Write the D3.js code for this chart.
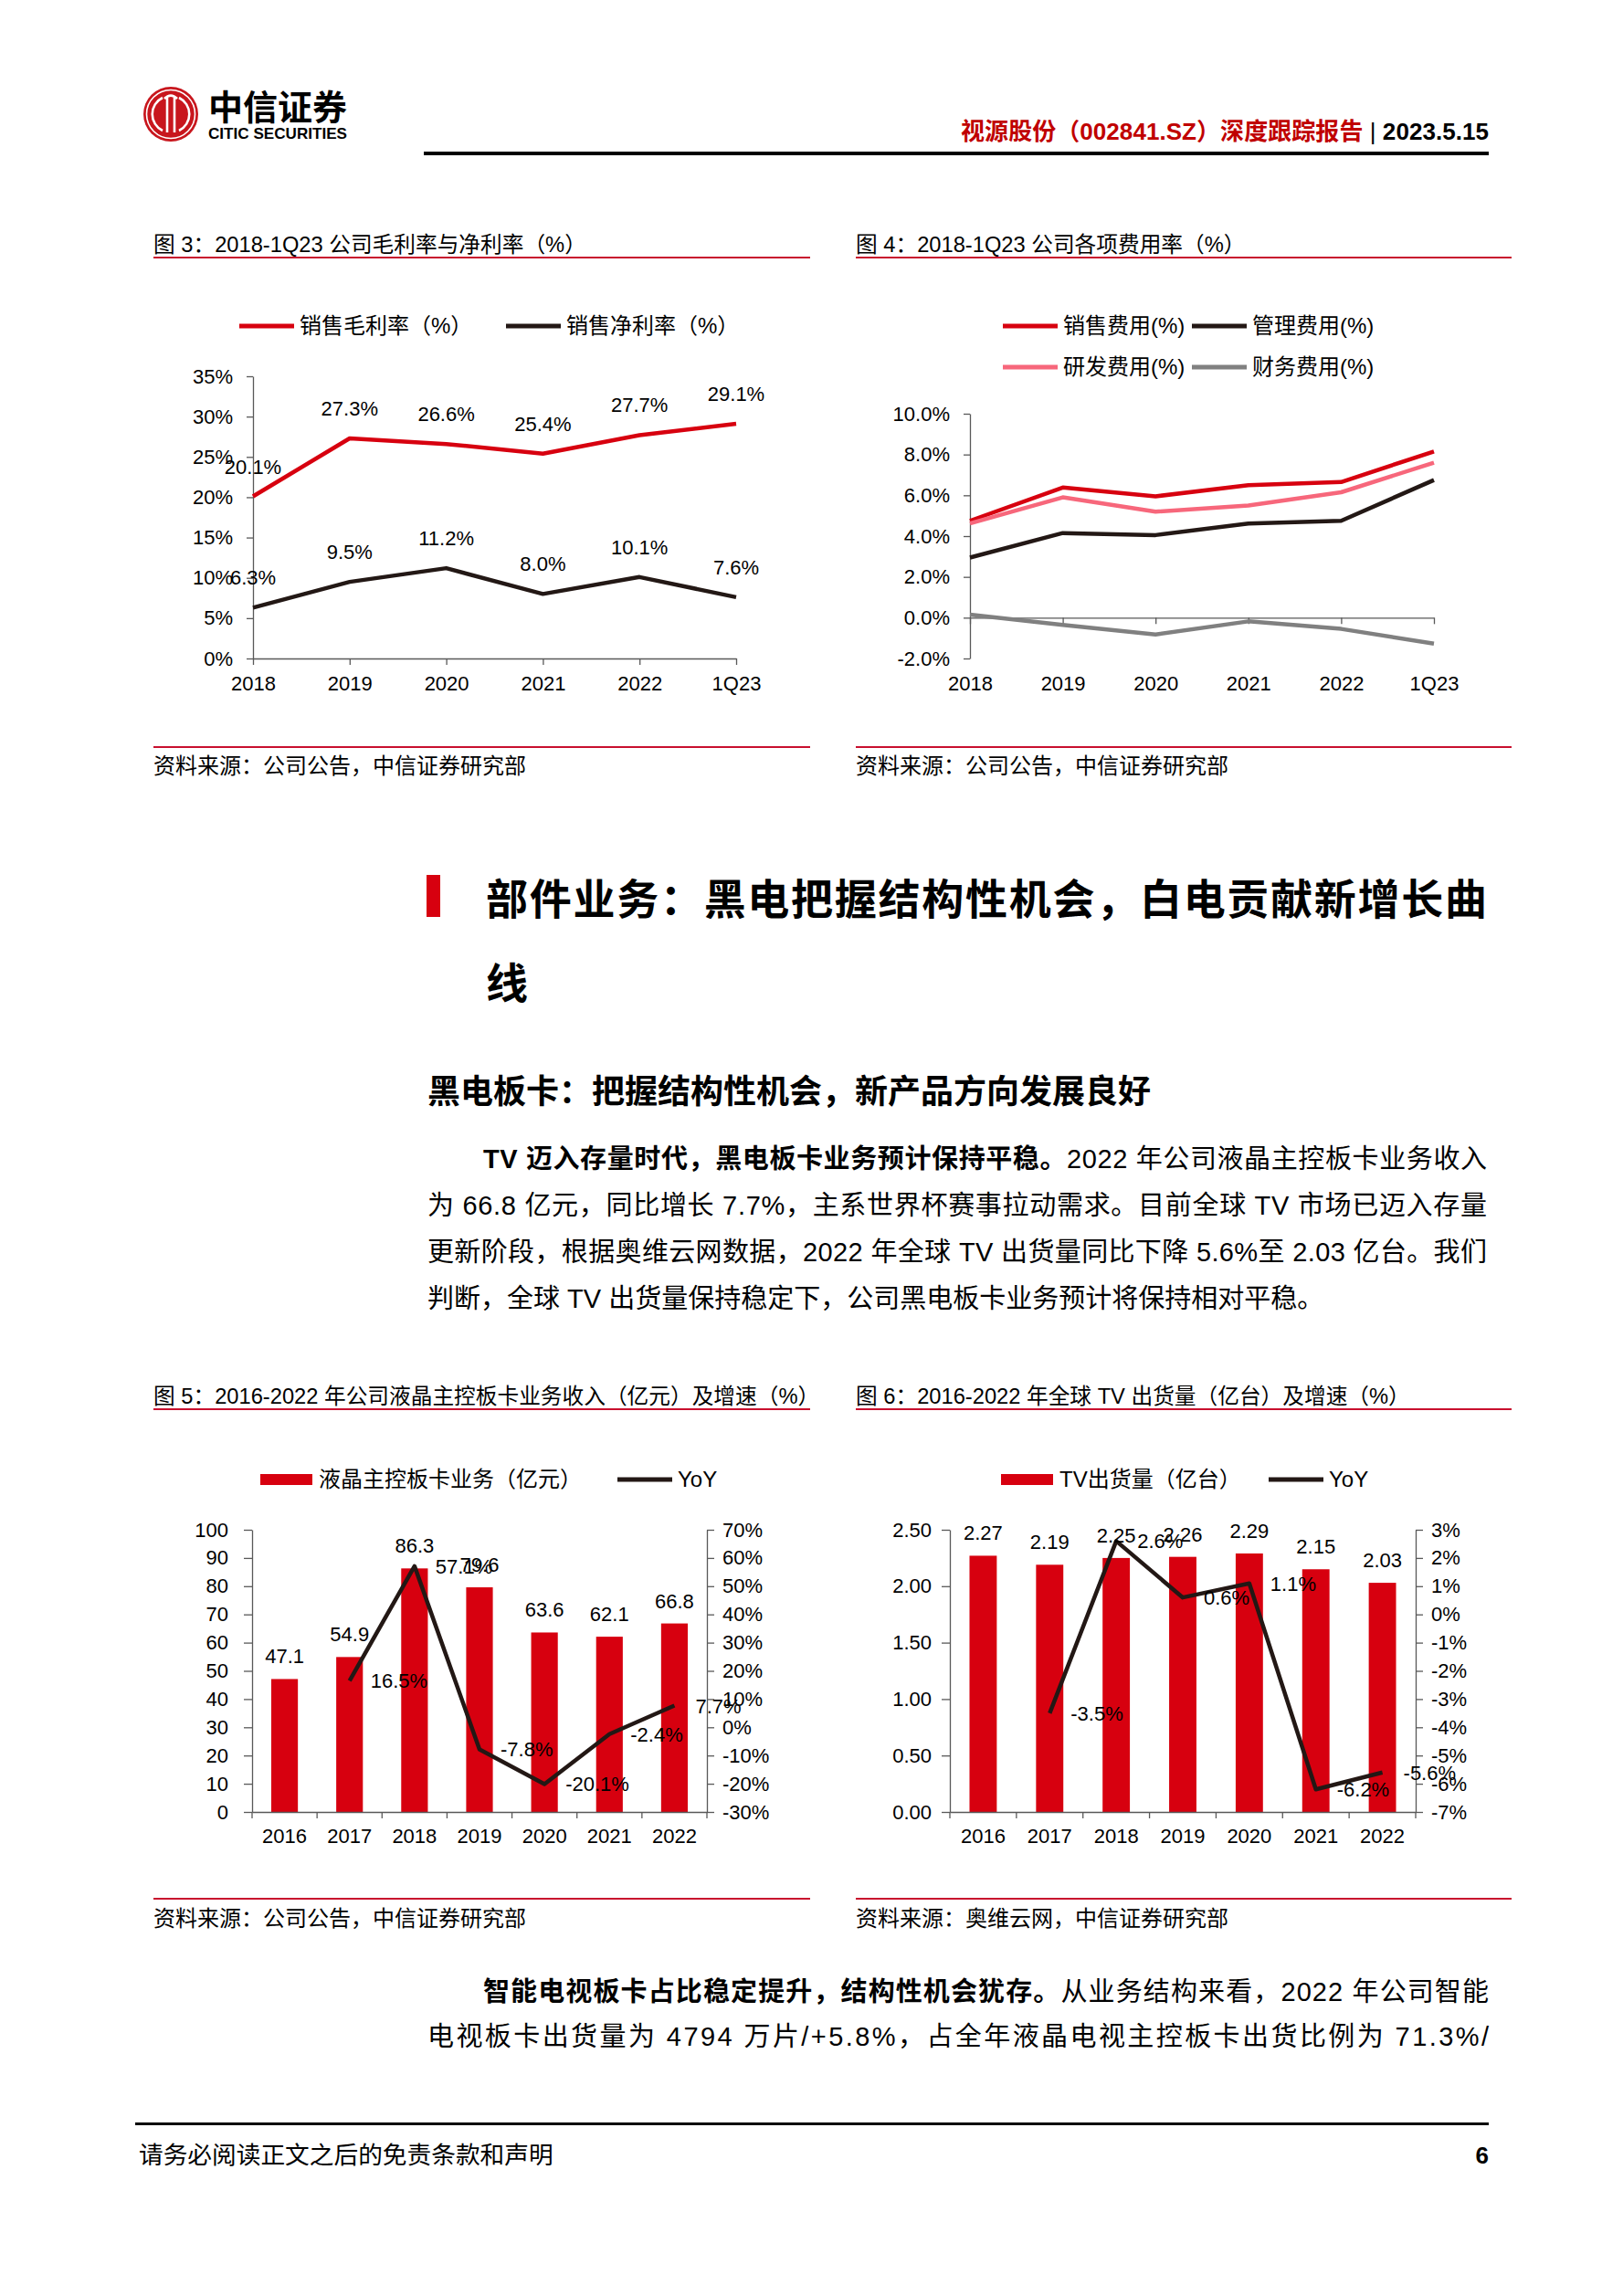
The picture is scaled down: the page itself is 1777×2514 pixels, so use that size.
<!DOCTYPE html>
<html>
<head>
<meta charset="utf-8">
<script src="https://cdn.jsdelivr.net/npm/d3@7"></script>
<style>
  html, body { margin: 0; padding: 0; background: #fff; }
  svg { display: block; font-family: "Liberation Sans", "Noto Sans CJK SC", sans-serif; }
</style>
</head>
<body>
<svg id="page" width="1777" height="2514"></svg>
<script>
// ---- data: fig 3 (margins)
const marginYears = ['2018', '2019', '2020', '2021', '2022', '1Q23']
const grossMargin = [20.1, 27.3, 26.6, 25.4, 27.7, 29.1]
const netMargin = [6.3, 9.5, 11.2, 8.0, 10.1, 7.6]
const marginTicks = [0, 5, 10, 15, 20, 25, 30, 35]

// ---- data: fig 4 (expense ratios)
const sellingExp = [4.75, 6.38, 5.95, 6.5, 6.65, 8.15]
const adminExp = [2.95, 4.15, 4.05, 4.62, 4.75, 6.75]
const rdExp = [4.62, 5.9, 5.2, 5.5, 6.15, 7.6]
const financeExp = [0.15, -0.35, -0.82, -0.18, -0.55, -1.27]
const expenseTicks = [-2, 0, 2, 4, 6, 8, 10]

// ---- data: fig 5 (board revenue)
const boardYears = ['2016', '2017', '2018', '2019', '2020', '2021', '2022']
const boardRevenue = [47.1, 54.9, 86.3, 79.6, 63.6, 62.1, 66.8]
const boardYoY = [null, 16.5, 57.1, -7.8, -20.1, -2.4, 7.7]
const boardLeftTicks = [0, 10, 20, 30, 40, 50, 60, 70, 80, 90, 100]
const boardRightTicks = [-30, -20, -10, 0, 10, 20, 30, 40, 50, 60, 70]

// ---- data: fig 6 (global TV shipments)
const tvShipments = [2.27, 2.19, 2.25, 2.26, 2.29, 2.15, 2.03]
const tvYoY = [null, -3.5, 2.6, 0.6, 1.1, -6.2, -5.6]
const tvLeftTicks = [0, 0.5, 1, 1.5, 2, 2.5]
const tvRightTicks = [-7, -6, -5, -4, -3, -2, -1, 0, 1, 2, 3]

const RED = '#d7000f'
const DARK = '#231815'
const PINK = '#f7677b'
const GREY = '#808080'
const AXIS = '#595959'
const RULE = '#c8102e'

const svg = d3.select('#page')

// ---------- page header
const logo = svg.append('g').attr('transform', 'translate(187,125)')
logo.append('circle').attr('r', 30).attr('fill', '#c8161d')
logo.append('circle').attr('r', 26.5).attr('fill', 'none').attr('stroke', '#fff').attr('stroke-width', 1.6)
logo.append('path')
  .attr('d', 'M-9,-18 A20,20 0 0,0 -9,18 M9,-18 A20,20 0 0,1 9,18 M-4,-20 V20 M4,-20 V20 M-7,-17 Q0,-24 7,-17')
  .attr('fill', 'none').attr('stroke', '#fff').attr('stroke-width', 2.6)

svg.append('text').attr('x', 228).attr('y', 131)
  .attr('font-size', 38).attr('font-weight', 700)
  .attr('textLength', 152).attr('lengthAdjust', 'spacingAndGlyphs')
  .text('中信证券')
svg.append('text').attr('x', 228).attr('y', 152)
  .attr('font-size', 17).attr('font-weight', 700)
  .attr('textLength', 152).attr('lengthAdjust', 'spacingAndGlyphs')
  .text('CITIC SECURITIES')

const hdr = svg.append('text').attr('x', 1052).attr('y', 153)
  .attr('font-size', 26).attr('font-weight', 700)
  .attr('textLength', 578).attr('lengthAdjust', 'spacing')
hdr.append('tspan').attr('fill', '#c00000').text('视源股份（002841.SZ）深度跟踪报告')
hdr.append('tspan').attr('fill', '#000').attr('font-weight', 400).text(' | ')
hdr.append('tspan').attr('fill', '#000').text('2023.5.15')

svg.append('rect').attr('x', 464).attr('y', 166).attr('width', 1166).attr('height', 4).attr('fill', '#000')

// ---------- helpers
function panel (x0, x1, titleY, ruleY, title, bottomY, sourceY, source) {
  svg.append('text').attr('x', x0).attr('y', titleY).attr('font-size', 23.7).text(title)
  svg.append('rect').attr('x', x0).attr('y', ruleY - 1).attr('width', x1 - x0).attr('height', 2).attr('fill', RULE)
  svg.append('rect').attr('x', x0).attr('y', bottomY - 1).attr('width', x1 - x0).attr('height', 2).attr('fill', RULE)
  svg.append('text').attr('x', x0).attr('y', sourceY).attr('font-size', 24).text(source)
}

function styleAxis (sel) {
  sel.attr('font-family', null).attr('font-size', 22)
  sel.select('.domain').attr('stroke', AXIS).attr('stroke-width', 1.3)
  sel.selectAll('.tick line').attr('stroke', AXIS).attr('stroke-width', 1.3)
  sel.selectAll('.tick text').attr('fill', '#000')
}

function legendLine (x, y, color, label) {
  svg.append('line').attr('x1', x).attr('x2', x + 60).attr('y1', y).attr('y2', y)
    .attr('stroke', color).attr('stroke-width', 5)
  svg.append('text').attr('x', x + 66).attr('y', y + 8).attr('font-size', 24).text(label)
}

function legendRect (x, y, color, label) {
  svg.append('rect').attr('x', x).attr('y', y - 6).attr('width', 57).attr('height', 12).attr('fill', color)
  svg.append('text').attr('x', x + 64).attr('y', y + 8).attr('font-size', 24).text(label)
}

const pct1 = d => d.toFixed(1) + '%'

// ---------- fig 3
panel(168, 887, 276, 282, '图 3：2018-1Q23 公司毛利率与净利率（%）', 818, 847, '资料来源：公司公告，中信证券研究部')
legendLine(262, 357, RED, '销售毛利率（%）')
legendLine(554, 357, DARK, '销售净利率（%）')

const x3 = d3.scalePoint().domain(marginYears).range([277, 806])
const y3 = d3.scaleLinear().domain([0, 35]).range([721, 412])

svg.append('g').attr('transform', 'translate(277,0)')
  .call(d3.axisLeft(y3).tickValues(marginTicks).tickFormat(d => d + '%').tickSize(7).tickSizeOuter(0).tickPadding(15))
  .call(styleAxis)
svg.append('g').attr('transform', 'translate(0,721)')
  .call(d3.axisBottom(x3).tickSize(7).tickSizeOuter(0).tickPadding(12))
  .call(styleAxis)

const line3 = d3.line().x((d, i) => x3(marginYears[i])).y(d => y3(d))
;[[grossMargin, RED], [netMargin, DARK]].forEach(([vals, color]) => {
  svg.append('path').attr('d', line3(vals)).attr('fill', 'none')
    .attr('stroke', color).attr('stroke-width', 4.5).attr('stroke-linejoin', 'round')
  svg.append('g').selectAll('text').data(vals).join('text')
    .attr('x', (d, i) => x3(marginYears[i]))
    .attr('y', d => y3(d) - 25)
    .attr('text-anchor', 'middle').attr('font-size', 22)
    .text(pct1)
})

// ---------- fig 4
panel(937, 1655, 276, 282, '图 4：2018-1Q23 公司各项费用率（%）', 818, 847, '资料来源：公司公告，中信证券研究部')
legendLine(1098, 357, RED, '销售费用(%)')
legendLine(1305, 357, DARK, '管理费用(%)')
legendLine(1098, 402, PINK, '研发费用(%)')
legendLine(1305, 402, GREY, '财务费用(%)')

const x4 = d3.scalePoint().domain(marginYears).range([1062, 1570])
const y4 = d3.scaleLinear().domain([-2, 10]).range([721, 453])

svg.append('g').attr('transform', 'translate(1062,0)')
  .call(d3.axisLeft(y4).tickValues(expenseTicks).tickFormat(pct1).tickSize(7).tickSizeOuter(0).tickPadding(15))
  .call(styleAxis)
svg.append('g').attr('transform', `translate(0,${y4(0)})`)
  .call(d3.axisBottom(x4).tickSize(7).tickSizeOuter(0).tickPadding(y4(-2) - y4(0) + 12))
  .call(styleAxis)

const line4 = d3.line().x((d, i) => x4(marginYears[i])).y(d => y4(d))
;[[sellingExp, RED], [adminExp, DARK], [rdExp, PINK], [financeExp, GREY]].forEach(([vals, color]) => {
  svg.append('path').attr('d', line4(vals)).attr('fill', 'none')
    .attr('stroke', color).attr('stroke-width', 4.5).attr('stroke-linejoin', 'round')
})

// ---------- combo chart (bars + YoY line)
function comboChart (opt) {
  const x = d3.scaleBand().domain(boardYears).range(opt.xRange).paddingInner(0).paddingOuter(0)
  const y = d3.scaleLinear().domain(opt.leftDomain).range([1984, 1675])
  const r = d3.scaleLinear().domain(opt.rightDomain).range([1984, 1675])
  const bw = x.bandwidth()
  const barW = bw * 0.41

  svg.append('g').selectAll('rect').data(opt.bars).join('rect')
    .attr('x', (d, i) => x(boardYears[i]) + (bw - barW) / 2)
    .attr('y', d => y(d))
    .attr('width', barW)
    .attr('height', d => y(0) - y(d))
    .attr('fill', RED)

  svg.append('g').attr('transform', `translate(${opt.xRange[0]},0)`)
    .call(d3.axisLeft(y).tickValues(opt.leftTicks).tickFormat(opt.leftFmt).tickSize(9).tickSizeOuter(0).tickPadding(opt.leftPad))
    .call(styleAxis)
  svg.append('g').attr('transform', `translate(${opt.xRange[1]},0)`)
    .call(d3.axisRight(r).tickValues(opt.rightTicks).tickFormat(d => d + '%').tickSize(8).tickSizeOuter(0).tickPadding(9))
    .call(styleAxis)
  svg.append('g').attr('transform', 'translate(0,1984)')
    .call(d3.axisBottom(x).tickSize(0).tickSizeOuter(0).tickPadding(18))
    .call(styleAxis)
  // category boundary ticks
  const edges = boardYears.map(d => x(d)).concat([opt.xRange[1]])
  svg.append('g').selectAll('line').data(edges).join('line')
    .attr('x1', d => d).attr('x2', d => d).attr('y1', 1984).attr('y2', 1991)
    .attr('stroke', AXIS).attr('stroke-width', 1.3)

  const pts = opt.yoy.map((v, i) => ({ v, c: x(boardYears[i]) + bw / 2 })).filter(p => p.v !== null)
  svg.append('path')
    .attr('d', d3.line().x(p => p.c).y(p => r(p.v))(pts))
    .attr('fill', 'none').attr('stroke', DARK).attr('stroke-width', 4.5).attr('stroke-linejoin', 'round')

  svg.append('g').selectAll('text').data(opt.bars).join('text')
    .attr('x', (d, i) => x(boardYears[i]) + bw / 2)
    .attr('y', d => y(d) - 17)
    .attr('text-anchor', 'middle').attr('font-size', 22)
    .text(opt.barFmt)
  svg.append('g').selectAll('text').data(pts).join('text')
    .attr('x', p => p.c + 23)
    .attr('y', p => r(p.v) + 8)
    .attr('font-size', 22)
    .text(p => pct1(p.v))
}

// ---------- fig 5
panel(168, 887, 1537, 1543, '图 5：2016-2022 年公司液晶主控板卡业务收入（亿元）及增速（%）', 2079, 2109, '资料来源：公司公告，中信证券研究部')
legendRect(285, 1620, RED, '液晶主控板卡业务（亿元）')
legendLine(676, 1620, DARK, 'YoY')
comboChart({
  xRange: [276, 774],
  leftDomain: [0, 100], rightDomain: [-30, 70],
  leftTicks: boardLeftTicks, rightTicks: boardRightTicks,
  leftFmt: d => d, leftPad: 17,
  bars: boardRevenue, yoy: boardYoY,
  barFmt: d => d.toFixed(1)
})

// ---------- fig 6
panel(937, 1655, 1537, 1543, '图 6：2016-2022 年全球 TV 出货量（亿台）及增速（%）', 2079, 2109, '资料来源：奥维云网，中信证券研究部')
legendRect(1096, 1620, RED, 'TV出货量（亿台）')
legendLine(1389, 1620, DARK, 'YoY')
comboChart({
  xRange: [1040, 1550],
  leftDomain: [0, 2.5], rightDomain: [-7, 3],
  leftTicks: tvLeftTicks, rightTicks: tvRightTicks,
  leftFmt: d => d.toFixed(2), leftPad: 11,
  bars: tvShipments, yoy: tvYoY,
  barFmt: d => d.toFixed(2)
})

// ---------- section text
svg.append('rect').attr('x', 467).attr('y', 958).attr('width', 15).attr('height', 46).attr('fill', RED)
svg.append('text').attr('x', 532).attr('y', 1001)
  .attr('font-size', 46).attr('font-weight', 700)
  .attr('textLength', 1096).attr('lengthAdjust', 'spacing')
  .text('部件业务：黑电把握结构性机会，白电贡献新增长曲')
svg.append('text').attr('x', 532).attr('y', 1093)
  .attr('font-size', 46).attr('font-weight', 700).text('线')

svg.append('text').attr('x', 468).attr('y', 1208)
  .attr('font-size', 36).attr('font-weight', 700)
  .text('黑电板卡：把握结构性机会，新产品方向发展良好')

function bodyLine (x, y, parts, right) {
  const t = svg.append('text').attr('x', x).attr('y', y).attr('font-size', 29)
  if (right) t.attr('textLength', right - x).attr('lengthAdjust', 'spacing')
  parts.forEach(([s, bold]) => t.append('tspan').attr('font-weight', bold ? 700 : 400).text(s))
}

bodyLine(529, 1279, [['TV 迈入存量时代，黑电板卡业务预计保持平稳。', true], ['2022 年公司液晶主控板卡业务收入', false]], 1628)
bodyLine(468, 1330, [['为 66.8 亿元，同比增长 7.7%，主系世界杯赛事拉动需求。目前全球 TV 市场已迈入存量', false]], 1628)
bodyLine(468, 1381, [['更新阶段，根据奥维云网数据，2022 年全球 TV 出货量同比下降 5.6%至 2.03 亿台。我们', false]], 1628)
bodyLine(468, 1432, [['判断，全球 TV 出货量保持稳定下，公司黑电板卡业务预计将保持相对平稳。', false]])

bodyLine(529, 2191, [['智能电视板卡占比稳定提升，结构性机会犹存。', true], ['从业务结构来看，2022 年公司智能', false]], 1630)
bodyLine(468, 2240, [['电视板卡出货量为 4794 万片/+5.8%，占全年液晶电视主控板卡出货比例为 71.3%/', false]], 1630)

// ---------- footer
svg.append('rect').attr('x', 148).attr('y', 2324).attr('width', 1482).attr('height', 3).attr('fill', '#000')
svg.append('text').attr('x', 152).attr('y', 2369).attr('font-size', 26.7).text('请务必阅读正文之后的免责条款和声明')
svg.append('text').attr('x', 1630).attr('y', 2369).attr('text-anchor', 'end')
  .attr('font-size', 26).attr('font-weight', 700).text('6')
</script>
</body>
</html>
